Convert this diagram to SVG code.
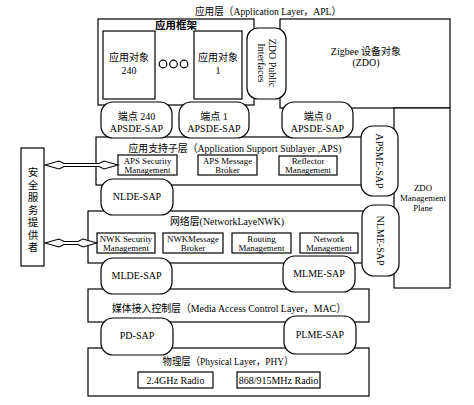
<svg xmlns="http://www.w3.org/2000/svg" width="474" height="405" viewBox="0 0 474 405">
<style>
  .box { fill: #fff; stroke: #000; stroke-width: 1.2; }
  .sap { fill: #fff; stroke: #000; stroke-width: 1.2; }
  .t { font-family: "Liberation Serif", "Noto Sans CJK SC", serif; font-size: 10px; fill: #000; text-anchor: middle; }
  .s { font-family: "Liberation Serif", "Noto Sans CJK SC", serif; font-size: 8.8px; fill: #000; text-anchor: middle; }
  .ti { font-family: "Liberation Serif", "Noto Sans CJK SC", serif; font-size: 10.5px; fill: #000; text-anchor: middle; }
  .arr { fill: #fff; stroke: #000; stroke-width: 1.1; stroke-linejoin: miter; }
</style>
<rect width="474" height="405" fill="#fff"/>

<!-- layer boxes -->
<g id="apl-title"><text class="ti" x="268" y="15" textLength="146" lengthAdjust="spacingAndGlyphs">应用层（Application Layer，APL）</text></g>
<g id="app-framework">
  <rect class="box" x="98" y="19" width="156" height="86"/>
  <text class="ti" x="176" y="29" font-weight="600">应用框架</text>
</g>
<g id="zdo">
  <rect class="box" x="280" y="19" width="170" height="89"/>
  <text class="t" x="366" y="55">Zigbee 设备对象</text>
  <text class="t" x="366" y="66">(ZDO)</text>
</g>
<g id="zdo-mgmt">
  <rect class="box" x="394" y="108" width="56" height="180"/>
  <text class="s" x="423" y="191">ZDO</text>
  <text class="s" x="423" y="201">Management</text>
  <text class="s" x="423" y="211">Plane</text>
</g>
<g id="aps">
  <rect class="box" x="96" y="137" width="284" height="48"/>
  <text class="ti" x="235" y="152" textLength="213" lengthAdjust="spacingAndGlyphs">应用支持子层（Application Support Sublayer ,APS)</text>
</g>
<g id="nwk">
  <rect class="box" x="88" y="211" width="292" height="52"/>
  <text class="ti" x="227" y="225" textLength="114" lengthAdjust="spacingAndGlyphs">网络层(NetworkLayeNWK)</text>
</g>
<g id="mac">
  <rect class="box" x="88" y="289" width="281" height="33"/>
  <text class="ti" x="229" y="312" textLength="234" lengthAdjust="spacingAndGlyphs">媒体接入控制层（Media Access Control  Layer，MAC）</text>
</g>
<g id="phy">
  <rect class="box" x="88" y="348" width="281" height="48"/>
  <text class="ti" x="228" y="365" textLength="131" lengthAdjust="spacingAndGlyphs">物理层（Physical Layer，PHY）</text>
</g>

<!-- application objects -->
<g id="app-obj-240">
  <rect class="box" x="103" y="31" width="52" height="68"/>
  <text class="t" x="129" y="61">应用对象</text>
  <text class="t" x="129" y="74">240</text>
</g>
<g id="ellipsis">
  <circle cx="163" cy="64" r="3.8" fill="none" stroke="#000" stroke-width="1.2"/>
  <circle cx="173.5" cy="64" r="3.8" fill="none" stroke="#000" stroke-width="1.2"/>
  <circle cx="184" cy="64" r="3.8" fill="none" stroke="#000" stroke-width="1.2"/>
</g>
<g id="app-obj-1">
  <rect class="box" x="194" y="31" width="48" height="68"/>
  <text class="t" x="218" y="61">应用对象</text>
  <text class="t" x="218" y="74">1</text>
</g>
<g id="zdo-public">
  <rect class="sap" x="247" y="28" width="39" height="71" rx="11"/>
  <g transform="translate(266,63) rotate(90)">
    <text class="t" x="0" y="-3">ZDO Public</text>
    <text class="t" x="0" y="8">Interfaces</text>
  </g>
</g>

<!-- SAPs -->
<g id="ep240">
  <rect class="sap" x="101" y="102" width="71" height="36" rx="12"/>
  <text class="t" x="136.5" y="120">端点 240</text>
  <text class="t" x="136.5" y="132">APSDE-SAP</text>
</g>
<g id="ep1">
  <rect class="sap" x="179" y="102" width="70" height="36" rx="12"/>
  <text class="t" x="214" y="120">端点 1</text>
  <text class="t" x="214" y="132">APSDE-SAP</text>
</g>
<g id="ep0">
  <rect class="sap" x="282" y="102" width="71" height="36" rx="12"/>
  <text class="t" x="317.5" y="120">端点 0</text>
  <text class="t" x="317.5" y="132">APSDE-SAP</text>
</g>
<g id="apsme-sap">
  <rect class="sap" x="361" y="126" width="37" height="70" rx="12"/>
  <text class="t" transform="translate(379.5,161) rotate(90)" x="0" y="3.5">APSME-SAP</text>
</g>
<g id="nlde-sap">
  <rect class="sap" x="101" y="179" width="72" height="36" rx="12"/>
  <text class="t" x="137" y="200">NLDE-SAP</text>
</g>
<g id="nlme-sap">
  <rect class="sap" x="362" y="205" width="37" height="71" rx="12"/>
  <text class="t" transform="translate(380.5,240.5) rotate(90)" x="0" y="3.5">NLME-SAP</text>
</g>
<g id="mlde-sap">
  <rect class="sap" x="101" y="258" width="71" height="36" rx="12"/>
  <text class="t" x="136.5" y="279">MLDE-SAP</text>
</g>
<g id="mlme-sap">
  <rect class="sap" x="283" y="256" width="72" height="36" rx="12"/>
  <text class="t" x="319" y="277">MLME-SAP</text>
</g>
<g id="pd-sap">
  <rect class="sap" x="101" y="318" width="72" height="37" rx="12"/>
  <text class="t" x="137" y="339">PD-SAP</text>
</g>
<g id="plme-sap">
  <rect class="sap" x="284" y="316" width="72" height="38" rx="12"/>
  <text class="t" x="320" y="338">PLME-SAP</text>
</g>

<!-- inner function boxes -->
<g id="aps-sec">
  <rect class="box" x="118" y="155" width="59" height="20"/>
  <text class="s" x="147.5" y="163.5">APS Security</text>
  <text class="s" x="147.5" y="172.5">Management</text>
</g>
<g id="aps-msg">
  <rect class="box" x="198" y="155" width="59" height="20"/>
  <text class="s" x="227.5" y="163.5">APS Message</text>
  <text class="s" x="227.5" y="172.5">Broker</text>
</g>
<g id="reflector">
  <rect class="box" x="279" y="156" width="58" height="19"/>
  <text class="s" x="308" y="164">Reflector</text>
  <text class="s" x="308" y="172.8">Management</text>
</g>
<g id="nwk-sec">
  <rect class="box" x="97" y="233" width="58" height="20"/>
  <text class="s" x="126" y="241.5">NWK Security</text>
  <text class="s" x="126" y="250.5">Management</text>
</g>
<g id="nwk-msg">
  <rect class="box" x="163" y="233" width="60" height="20"/>
  <text class="s" x="193" y="241.5">NWKMessage</text>
  <text class="s" x="193" y="250.5">Broker</text>
</g>
<g id="routing">
  <rect class="box" x="232" y="233" width="59" height="20"/>
  <text class="s" x="261.5" y="241.5">Routing</text>
  <text class="s" x="261.5" y="250.5">Management</text>
</g>
<g id="network-mgmt">
  <rect class="box" x="300" y="233" width="58" height="20"/>
  <text class="s" x="329" y="241.5">Network</text>
  <text class="s" x="329" y="250.5">Management</text>
</g>
<g id="radio-24">
  <rect class="box" x="138" y="372" width="75" height="16"/>
  <text class="t" x="175.5" y="383.5">2.4GHz Radio</text>
</g>
<g id="radio-868">
  <rect class="box" x="237" y="372" width="83" height="16"/>
  <text class="t" x="278.5" y="383.5">868/915MHz Radio</text>
</g>

<!-- security service provider -->
<g id="security-provider">
  <rect class="box" x="21" y="148" width="23" height="118"/>
  <text class="ti" x="33"><tspan x="33" y="176">安</tspan><tspan x="33" y="188.5">全</tspan><tspan x="33" y="201">服</tspan><tspan x="33" y="213.5">务</tspan><tspan x="33" y="226">提</tspan><tspan x="33" y="238.5">供</tspan><tspan x="33" y="251">者</tspan></text>
</g>

<!-- connectors -->
<g id="connectors">
  <path class="arr" d="M45,165 L59,161 L64,163.5 L99,163.5 L104,161 L118,165 L104,169 L99,166.5 L64,166.5 L59,169 Z"/>
  <path class="arr" d="M45,243 L59,239 L64,241.5 L78,241.5 L83,239 L97,243 L83,247 L78,244.5 L64,244.5 L59,247 Z"/>
</g>
</svg>
